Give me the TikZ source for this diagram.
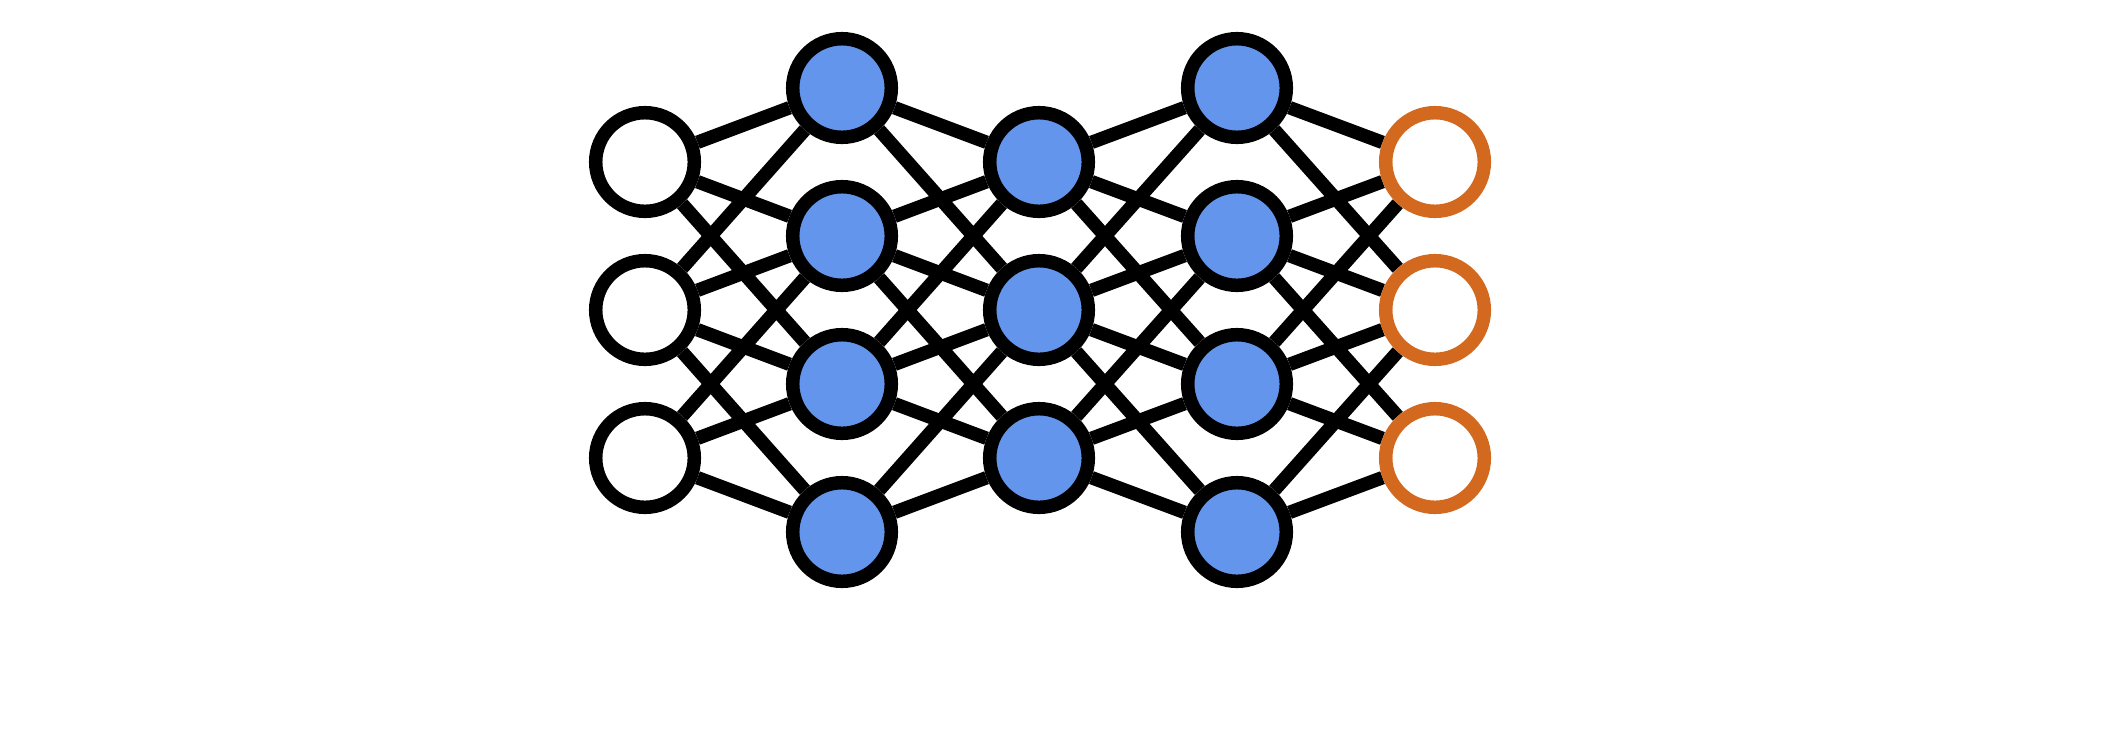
\documentclass[tikz,border=0pt]{standalone}
\usetikzlibrary{backgrounds}
\definecolor{hidblue}{HTML}{6495ED}
\definecolor{outorange}{HTML}{D2691E}
\begin{document}
\begin{tikzpicture}[x=0.5pt,y=-0.5pt,
  neuron/.style={circle,minimum size=49.3pt,inner sep=0pt,line width=6.75pt},
  inneuron/.style={neuron,draw=black,fill=white},
  hidneuron/.style={neuron,draw=black,fill=hidblue},
  outneuron/.style={neuron,draw=outorange,fill=white},
  link/.style={draw=black,line width=6.75pt}]
\useasboundingbox (0,0) rectangle (2124,751);
% input layer
\foreach \i/\y in {1/162,2/310,3/458} \node[inneuron] (a\i) at (645,\y) {};
% hidden 1
\foreach \i/\y in {1/88,2/236,3/384,4/532} \node[hidneuron] (b\i) at (842,\y) {};
% hidden 2
\foreach \i/\y in {1/162,2/310,3/458} \node[hidneuron] (c\i) at (1039,\y) {};
% hidden 3
\foreach \i/\y in {1/88,2/236,3/384,4/532} \node[hidneuron] (d\i) at (1237,\y) {};
% output
\foreach \i/\y in {1/162,2/310,3/458} \node[outneuron] (e\i) at (1435,\y) {};
\begin{pgfonlayer}{background}
\foreach \i/\j in {1/1,1/2,1/3,2/1,2/2,2/3,2/4,3/2,3/3,3/4} {
  \draw[link] (a\i) -- (b\j);
  \draw[link] (b\j) -- (c\i);
  \draw[link] (c\i) -- (d\j);
  \draw[link] (d\j) -- (e\i);
}
\end{pgfonlayer}
\end{tikzpicture}
\end{document}
